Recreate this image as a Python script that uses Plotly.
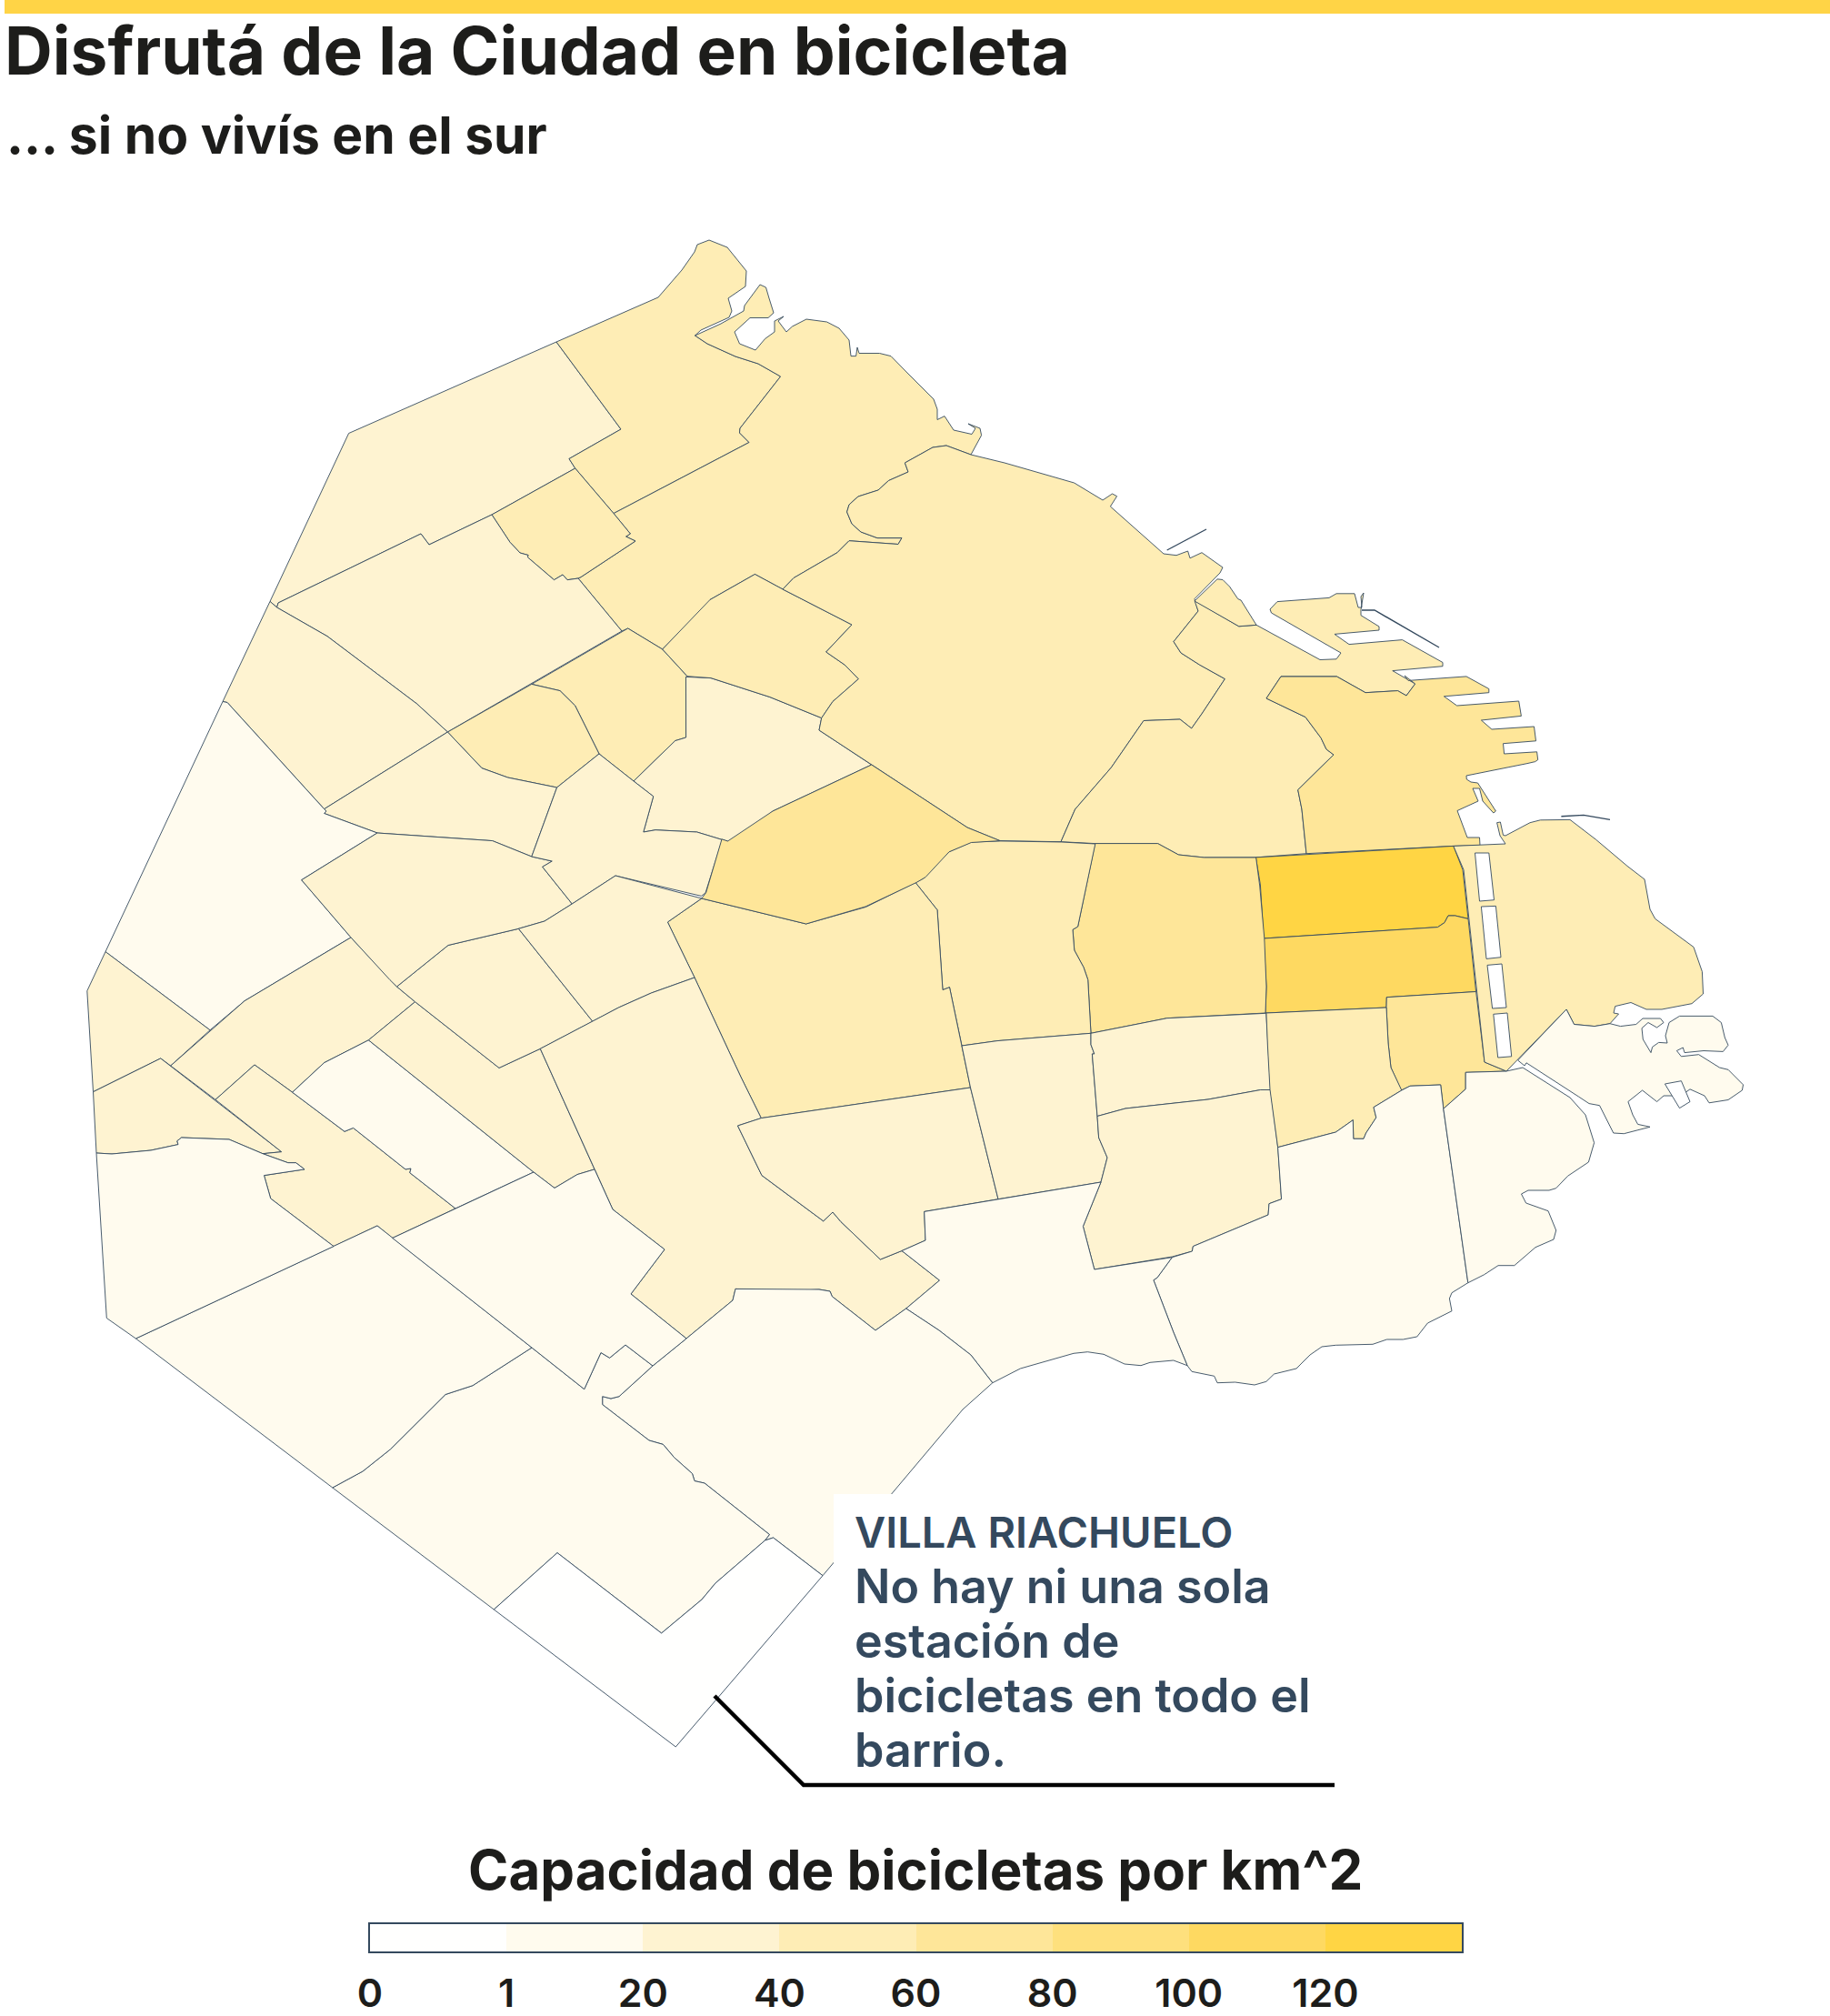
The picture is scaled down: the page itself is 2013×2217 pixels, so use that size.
import plotly.graph_objects as go

# Barrios (x, y in the picture's own units)
SAAVEDRA = [(612,376),(383.6,476.5),(297,661.4),(304.6,668),(306,663),(463,587),(472,599),(541,566),(632.7,515),(626,504.5),(683,472)]
NUNEZ = [(612,376),(724,327),(750,297),(764,277),(767,269),(780,264),(800,272),(821,298),(820,315),(801,328),(805,342),(802,349),(771,363),(764.5,369),(778,378),(809,392),(834,400),(858.6,414),(814,471),(813.5,476),(824,486.5),(675,564.6),(632.7,515),(626,504.5),(683,472)]
BELGRANO = [(764.5,369),(793,356),(818,342),(819,336),(836,313),(842.5,316),(846,328),(851,344),(845,349.5),(825,349.5),(808,365),(813.5,378),(831,385),(841.6,372.5),(852,365),(852,353),(862,348),(856,353),(865,365),(871.5,359),(887,351),(909.5,354),(923,361),(934,374),(936,391.6),(941.6,391.6),(943,382),(945,388.5),(967.5,388.5),(980,391.6),(1000,412),(1027,439),(1031,450),(1031,461.5),(1039,457.6),(1049,473),(1069,477.5),(1073,471),(1065,466),(1078,471),(1079.6,478.7),(1068,500),(1041,490),(1026,492),(995.4,509),(999,519),(977.5,528.5),(966,539),(944,546),(934,555),(931.6,563),(937,576),(947,585),(965,591.6),(992,591.6),(988,598.5),(934,594.7),(921,607.7),(873,635.6),(861,648),(830.4,631.5),(781,659.5),(780,663),(728.7,714),(690.7,691),(684,694),(636,636),(639,634.6),(699,595),(688.5,590),(693.4,587),(675,564.6),(824,486.5),(813.5,476),(814,471),(858.6,414),(834,400),(809,392),(778,378)]
COGHLAN = [(541,566),(632.7,515),(675,564.6),(693.4,587),(688.5,590),(699,595),(639,634.6),(636,636),(624,637.7),(619,632),(609.5,637.7),(580.4,612.8),(581,610.5),(572,608),(561,596.3)]
VILLA_URQUIZA = [(306,663),(463,587),(472,599),(541,566),(561,596.3),(572,608),(581,610.5),(580.4,612.8),(609.5,637.7),(619,632),(624,637.7),(636,636),(684,694),(492.4,805),(458.6,774),(360,699.7),(304.6,668)]
VILLA_ORTUZAR = [(690.7,691),(728.7,714),(756,743.7),(754.5,744.4),(754.5,807),(754.6,811),(742.7,814.6),(697,859),(659,829),(632.6,776),(616,759.6),(584.8,752.4)]
PARQUE_CHAS = [(492.4,805),(584.8,752.4),(616,759.6),(632.6,776),(659,829),(612.6,866),(558.5,855),(530,844.7)]
VILLA_PUEYRREDON = [(297,661.4),(304.6,668),(360,699.7),(458.6,774),(492.4,805),(356.6,889.7),(250,772.5),(245,771.5)]
AGRONOMIA = [(492.4,805),(530,844.7),(558.5,855),(612.6,866),(584.8,942),(541.7,924.6),(415,916),(356.6,894.5),(359,892),(356.6,889.7)]
VILLA_DEVOTO = [(245,771.5),(250,772.5),(356.6,889.7),(359,892),(356.6,894.5),(415,916),(331.7,967.7),(386,1030.9),(269,1100.7),(231,1132.8),(116,1046.6)]
VILLA_REAL = [(116,1046.6),(95.8,1089.7),(102.5,1200.7),(176.7,1163.9),(187.7,1172),(231,1132.8)]
LINIERS_NORTE = [(102.5,1200.7),(176.7,1163.9),(309.7,1266.7),(289,1268.7),(252,1253),(199.6,1251),(194.8,1254.8),(196,1258.6),(166,1265),(123,1269),(106,1268)]
MONTE_CASTRO = [(187.7,1172),(269,1100.7),(386,1030.9),(429,1077.7),(436.5,1085),(456.6,1101.7),(405.4,1143.8),(356.6,1168.7),(321.6,1201.2),(280,1171),(237,1209.3)]
VILLA_LURO = [(280,1171),(321.6,1201.2),(379,1244.3),(388.6,1240.4),(446,1285.9),(452,1285),(450.8,1289.7),(501,1329),(431.7,1361.5),(415,1348),(367,1370.6),(297.7,1318),(290.5,1292.6),(335,1285.9),(325.5,1278.7),(316.8,1278.7),(289,1268.7),(309.7,1266.7),(237,1209.3)]
VELEZ_SARSFIELD = [(321.6,1201.2),(356.6,1168.7),(405.4,1143.8),(587,1289),(501,1329),(450.8,1289.7),(452,1285),(446,1285.9),(388.6,1240.4),(379,1244.3)]
FLORESTA = [(405.4,1143.8),(456.6,1101.7),(549,1174.4),(594.3,1153.3),(654,1285.9),(635,1291.6),(610,1306.5),(587,1289)]
VILLA_SANTA_RITA = [(436.5,1085),(493,1039.5),(570.4,1021.3),(651.8,1123.2),(594.3,1153.3),(549,1174.4),(456.6,1101.7)]
VILLA_DEL_PARQUE = [(331.7,967.7),(415,916),(541.7,924.6),(584.8,942),(607.3,947),(596.7,953.3),(629.3,994),(599,1013),(570.4,1021.3),(493,1039.5),(436.5,1085),(429,1077.7),(386,1030.9)]
LA_PATERNAL = [(754.5,744.4),(782,745.6),(847,766.6),(903.7,789.6),(901,803),(958.7,841),(850,892),(830,908),(801.5,925.6),(766.6,915),(721,912.7),(707.8,915),(718.7,875.8),(697,859),(742.7,814.6),(754.6,811)]
VILLA_MITRE = [(612.6,866),(659,829),(697,859),(718.7,875.8),(707.8,915),(721,912.7),(766.6,915),(801.5,925.6),(794.3,924),(776,982),(771.4,985.4),(677,963),(629.3,994),(596.7,953.3),(607.3,947),(584.8,942)]
COLEGIALES = [(830.4,631.5),(861,648),(937,687),(908.7,717),(929,731),(944.4,746.6),(916,771.5),(903.7,789.6),(847,766.6),(782,745.6),(756,743.7),(728.7,714),(781,659.5)]
PALERMO = [(861,648),(873,635.6),(921,607.7),(934,594.7),(988,598.5),(992,591.6),(965,591.6),(947,585),(937,576),(931.6,563),(934,555),(944,546),(966,539),(977.5,528.5),(999,519),(995.4,509),(1026,492),(1041,490),(1068,500),(1074.5,501.7),(1105,509),(1181.6,531),(1213,550),(1223.5,543),(1228.6,545.7),(1221.4,557),(1273.5,603),(1280,609),(1294,610.7),(1306.6,606),(1309,613.8),(1322,607.7),(1345,624),(1342,630),(1314,658.6),(1318,672),(1291,705.6),(1299,718),(1319.4,731),(1347.4,746.6),(1322,785),(1310.7,801),(1298,791),(1258,792.5),(1222.4,844),(1182.6,890),(1167,925.7),(1103.6,924.6),(1100,924.6),(1064,910),(958.7,841),(901,803),(903.7,789.6),(916,771.5),(944.4,746.6),(929,731),(908.7,717),(937,687)]
RECOLETA = [(1258,792.5),(1298,791),(1310.7,801),(1322,785),(1347.4,746.6),(1319.4,731),(1299,718),(1291,705.6),(1318,672),(1314,660.5),(1362.8,688.8),(1382,687.3),(1452,725.5),(1470,724.8),(1475,718),(1398.5,674),(1397,670),(1405,661.6),(1462,657.4),(1470,652.8),(1490,652.8),(1494,668),(1498,668),(1497,656),(1500,652),(1497,670.5),(1497,676.7),(1517,689),(1517,693),(1468,697.4),(1484,708.6),(1542.5,703.6),(1587,728.5),(1587,732.7),(1531.8,737.6),(1556.7,752),(1547,765),(1537.5,759.6),(1502,761.7),(1470.5,743.9),(1409,743.9),(1393,768),(1436,788.6),(1453,811.4),(1459,824),(1467,830),(1427.7,868.6),(1432,890),(1437,938.7),(1381.4,942.9),(1324.5,943),(1296.4,940),(1273.5,927.6),(1204.6,927.6),(1167,925.7),(1182.6,890),(1222.4,844)]
RECOLETA_NORTE = [(1314,661),(1339,636.8),(1345,637.5),(1352.5,645),(1361.7,658.6),(1365,660),(1382,687.3),(1362.8,688.8)]
RETIRO = [(1393,768),(1409,744),(1470.5,744),(1502,761.7),(1537.5,759.6),(1547,765),(1556.7,752),(1545,743),(1549,748.4),(1613,743.9),(1637.8,757.5),(1637.8,761.7),(1588.4,765.8),(1602.6,776),(1670.7,771),(1673.4,787.4),(1629.4,792),(1640.9,802),(1687.5,799),(1689.5,814.8),(1653.5,817.7),(1654.6,829),(1690.6,826.8),(1691.7,835.5),(1688.7,837.6),(1680,839.6),(1613,853),(1613.3,857),(1618,860),(1625.5,861),(1645.4,892),(1642.8,894),(1631,881),(1627.5,867),(1620,867),(1626,881),(1603,891.5),(1614,921),(1627.5,921),(1628,929.6),(1598.8,930.4),(1437,938.7),(1432,890),(1427.7,868.6),(1467,830),(1459,824),(1453,811.4),(1436,788.6)]
SAN_NICOLAS = [(1381.4,942.9),(1598.8,930.4),(1609,956.5),(1615,1010.4),(1600.7,1007),(1593,1007),(1589,1014.6),(1581.5,1019.6),(1390,1032),(1386.4,973)]
MONSERRAT = [(1390,1032),(1581.5,1019.6),(1589,1014.6),(1593,1007),(1600.7,1007),(1615,1010.4),(1623.6,1090.5),(1525.3,1096.7),(1525,1108),(1392,1114),(1393,1085)]
SAN_TELMO = [(1525.3,1096.7),(1623.6,1090.5),(1633,1168),(1657,1178),(1612.2,1179.3),(1612.2,1197.7),(1587.8,1219.3),(1584.7,1193),(1551,1194.3),(1541.4,1199),(1530,1174),(1527,1147),(1525,1108)]
BALVANERA = [(1204.6,927.6),(1273.5,927.6),(1296.4,940),(1324.5,943),(1381.6,943),(1385.7,974),(1390.8,1031.7),(1393,1085),(1392,1114),(1283.7,1119.7),(1200,1136.3),(1196.7,1077.4),(1192,1063.8),(1181.8,1045),(1180,1022.3),(1185.6,1019)]
ALMAGRO = [(1204.8,928),(1185.6,1019),(1180,1022.3),(1181.8,1045),(1192,1063.8),(1196.7,1077.4),(1200,1136.3),(1097,1144.6),(1058,1150),(1044.5,1085.7),(1037,1088.6),(1031,1000.7),(1007,970.5),(1015.8,966),(1035,944.8),(1044.5,936.5),(1068.4,926),(1099.5,924.9),(1167.5,926)]
CABALLITO = [(771.8,988),(886.6,1016),(952.6,997.4),(1007,970.5),(1031,1000.7),(1037,1088.6),(1044.5,1085.7),(1058,1150),(1067.5,1196),(837.3,1229.6),(814.8,1184),(764,1075),(734.4,1014)]
VILLA_CRESPO = [(958.7,841),(1064,910),(1100,924.6),(1068.4,926.5),(1044,936.8),(1018,964.7),(1008,970.5),(952,997),(886.7,1016),(771.8,988),(776.6,981.7),(794,922.8),(800.5,925),(850,892)]
FLORES_NORTE = [(629.3,994),(677,963),(771.8,988),(734.4,1014),(764,1075),(716.4,1092),(680.5,1108),(651.8,1123.2),(570.4,1021.3),(599,1013)]
FLORES = [(594.3,1153.3),(651.8,1123.2),(680.5,1108),(716.4,1092),(764,1075),(814.8,1184),(837.3,1229.6),(811.5,1238),(838,1292.6),(867.5,1314.6),(905.7,1342.8),(916,1333),(925,1343.6),(968.4,1385),(992,1375.5),(1033.5,1408),(996.7,1439),(963,1463),(915.3,1425.7),(913,1420),(901,1418),(862.7,1420),(809,1417.4),(806,1430),(755,1472),(694,1423),(731,1374),(674,1330),(654,1285.9)]
PARQUE_CHACABUCO = [(837.3,1229.6),(1067.5,1196),(1098,1318.7),(1016.7,1332.4),(1018,1364),(992,1375.5),(968.4,1385),(925,1343.6),(916,1333),(905.7,1342.8),(838,1292.6),(811.5,1238)]
BOEDO = [(1058,1150),(1097,1144.6),(1200,1136.3),(1200,1148.8),(1203.8,1159),(1201.4,1159),(1207,1227.5),(1208.6,1251),(1218,1273),(1211,1300),(1098,1318.7),(1067.5,1196)]
SAN_CRISTOBAL = [(1200,1136.3),(1283.7,1119.7),(1392.8,1114.3),(1397.6,1198.5),(1386.6,1198.5),(1329,1209),(1238,1219),(1207,1227.5),(1201.4,1159),(1203.8,1159),(1200,1148.8)]
PARQUE_PATRICIOS = [(1207,1227.5),(1238,1219),(1329,1209),(1386.6,1198.5),(1397.6,1198.5),(1405.7,1262),(1409.6,1318.7),(1396,1323.7),(1395,1336),(1312.4,1370.6),(1311.4,1376),(1289.5,1382),(1203.8,1396),(1191.4,1348.6),(1211,1300),(1218,1273),(1208.6,1251)]
CONSTITUCION = [(1392.9,1114),(1525,1108),(1527,1147),(1530,1174),(1541.8,1199),(1511,1217.7),(1513.8,1229),(1502.6,1246),(1500,1252.3),(1488.8,1252.3),(1488.3,1231.7),(1469.4,1245),(1405.6,1261.7),(1397,1198.3),(1394.4,1150)]
BARRACAS = [(1551,1194.3),(1584.7,1193),(1587.8,1219.3),(1614.8,1410.7),(1597,1421.7),(1594.4,1428),(1597,1441.7),(1570.4,1455),(1558.7,1470),(1543.4,1473),(1525.5,1473),(1510,1478.3),(1469.4,1479.3),(1454,1481),(1441,1490),(1426,1505),(1401.5,1511),(1392.9,1519.3),(1380,1523),(1358.7,1520),(1339,1520.7),(1335.7,1513.3),(1311,1508.3),(1306,1501.7),(1290.8,1465),(1268.9,1407.7),(1273,1405),(1289.3,1382.7),(1311.4,1376),(1312.4,1370.6),(1395,1336),(1396,1323.7),(1409.6,1318.7),(1405.6,1261.7),(1469.4,1245),(1488.3,1231.7),(1488.8,1252.3),(1500,1252.3),(1502.6,1246),(1513.8,1229),(1511,1217.7),(1541.8,1199)]
LA_BOCA = [(1587.8,1219.3),(1612.2,1197.7),(1612.2,1179.3),(1657,1178),(1675,1174),(1727,1207),(1744,1226),(1753.6,1256.7),(1747.4,1278),(1724.5,1293.3),(1711.7,1306.7),(1704,1309),(1681,1309),(1673.5,1313),(1678.6,1323),(1703,1331.7),(1711.7,1353),(1709,1363),(1689,1371.7),(1665.8,1391.7),(1648,1391.7),(1632.7,1401.7),(1614.8,1410.7)]
PUERTO_MADERO = [(1598.8,930.4),(1656,928),(1650,919),(1646.6,904.7),(1650.4,904),(1653.5,918.4),(1656,919),(1683,904.7),(1694.4,901.8),(1727,901.4),(1755.7,923.4),(1790,952.4),(1809,967),(1815,1000),(1820.7,1010.4),(1863,1041.5),(1872.4,1068.5),(1873.5,1093),(1861,1103.7),(1828,1110),(1811,1110),(1794,1102.5),(1776.7,1106.6),(1775,1114),(1780.5,1115),(1771,1125.7),(1754,1128.6),(1731.5,1126.5),(1723,1110),(1657,1178),(1633,1168),(1610,956.5)]
RESERVA = [(1669.6,1166),(1723,1110),(1731.5,1126.5),(1754,1128.6),(1771,1125.7),(1782.5,1128.6),(1799.7,1126.5),(1807,1120),(1826.5,1120),(1830,1124.5),(1822.6,1130),(1813,1124.5),(1806,1130.7),(1807.3,1143),(1816,1157.6),(1817.6,1151.4),(1824.6,1146.4),(1834,1147),(1832,1139),(1836,1124.5),(1847.5,1117.4),(1884,1117.4),(1893.4,1124.5),(1897.3,1141),(1901,1149.3),(1895.4,1156.4),(1874,1155.5),(1853,1157.6),(1851.3,1152),(1844.4,1155.5),(1849.4,1161.8),(1868.6,1159.7),(1891.5,1174),(1901,1176.3),(1917.5,1192.9),(1916.4,1199),(1901,1209.5),(1880,1212.8),(1875,1205),(1859,1197.8),(1849,1205),(1830,1205),(1822.6,1211.5),(1806.6,1199),(1790.9,1211.5),(1796,1226),(1801.6,1236.4),(1815,1239.3),(1786.3,1246.7),(1774.8,1246),(1759.5,1215.7),(1748,1213.6),(1736.5,1206),(1679,1168.8),(1677,1172)]
NUEVA_POMPEYA = [(1016.7,1332.4),(1098,1318.7),(1211,1300),(1191.4,1348.6),(1203.8,1396),(1289.3,1382.7),(1273,1405),(1268.9,1407.7),(1290.8,1465),(1306,1501.7),(1290.8,1496),(1265,1498.3),(1255,1501.7),(1237,1500),(1214,1489.3),(1196.4,1486.7),(1181,1488.3),(1122.4,1505),(1091.8,1520.7),(1067.9,1490),(1033,1463),(996.7,1439),(1033.5,1408),(992,1375.5),(1018,1364)]
VILLA_SOLDATI = [(809,1417.4),(901,1418),(913,1420),(915.3,1425.7),(963,1463),(996.7,1439),(1033,1463),(1067.9,1490),(1091.8,1520.7),(1059,1550),(1000,1620),(917,1719),(905,1732.7),(850.6,1691),(841.5,1694),(846.4,1687.5),(775,1631),(764,1628.6),(761.5,1620.5),(741.5,1602.7),(729.4,1588.4),(714,1584),(662.7,1544.6),(662.7,1535.7),(672,1538),(681,1535.7),(718,1502),(755,1472),(806,1430)]
VILLA_RIACHUELO = [(905,1732.7),(850.6,1691),(841.5,1694),(787,1741),(772,1759),(727.6,1796),(613,1707.6),(543.3,1770),(743.3,1921)]
VILLA_LUGANO = [(585,1482),(642.7,1527.7),(661,1487.5),(670.6,1493.3),(688,1479),(718,1502),(681,1535.7),(672,1538),(662.7,1535.7),(662.7,1544.6),(714,1584),(729.4,1588.4),(741.5,1602.7),(761.5,1620.5),(764,1628.6),(775,1631),(846.4,1687.5),(841.5,1694),(787,1741),(772,1759),(727.6,1796),(613,1707.6),(543.3,1770),(365.8,1636),(399,1618),(429.4,1593.8),(490,1533.5),(520,1523.7)]
LINIERS = [(415,1348),(585,1482),(520,1523.7),(490,1533.5),(429.4,1593.8),(399,1618),(365.8,1636),(149.4,1472)]
VERSALLES = [(106,1268),(123,1269),(166,1265),(196,1258.6),(194.8,1254.8),(199.6,1251),(252,1253),(289,1268.7),(316.8,1278.7),(325.5,1278.7),(335,1285.9),(290.5,1292.6),(297.7,1318),(367,1370.6),(149.4,1472),(117.3,1449.5)]
MATADEROS = [(431.7,1361.5),(501,1329),(587,1289),(610,1306.5),(635,1291.6),(654,1285.9),(674,1330),(731,1374),(694,1423),(755,1472),(718,1502),(688,1479),(670.6,1493.3),(661,1487.5),(642.7,1527.7),(585,1482)]

# Capacity per km^2, one value per barrio (only the class is readable from the map)
BARRIOS = [SAAVEDRA, NUNEZ, BELGRANO, COGHLAN, VILLA_URQUIZA, VILLA_ORTUZAR, PARQUE_CHAS, VILLA_PUEYRREDON,
           AGRONOMIA, VILLA_DEVOTO, VILLA_REAL, LINIERS_NORTE, MONTE_CASTRO, VILLA_LURO, VELEZ_SARSFIELD,
           FLORESTA, VILLA_SANTA_RITA, VILLA_DEL_PARQUE, LA_PATERNAL, VILLA_MITRE, COLEGIALES, PALERMO,
           RECOLETA, RECOLETA_NORTE, RETIRO, SAN_NICOLAS, MONSERRAT, SAN_TELMO, BALVANERA, ALMAGRO, CABALLITO,
           VILLA_CRESPO, FLORES_NORTE, FLORES, PARQUE_CHACABUCO, BOEDO, SAN_CRISTOBAL, PARQUE_PATRICIOS,
           CONSTITUCION, BARRACAS, LA_BOCA, PUERTO_MADERO, RESERVA, NUEVA_POMPEYA, VILLA_SOLDATI,
           VILLA_LUGANO, LINIERS, VERSALLES, MATADEROS, VILLA_RIACHUELO]
CAPACIDAD = [30, 50, 50, 50, 30, 50, 50, 30,
             30, 10, 30, 30, 30, 30, 10,
             30, 30, 30, 30, 30, 50, 50,
             50, 50, 70, 130, 110, 70, 70, 50, 50,
             70, 30, 30, 30, 30, 30, 30,
             50, 10, 10, 50, 10, 10, 10,
             10, 10, 10, 10, 0]

# White gaps in the docks and the pier lines
DIQUES = [[(1622.5,938),(1637.8,938),(1643.5,989.7),(1627.5,991)],
          [(1629.4,997),(1645.4,996.4),(1651,1052.7),(1635,1054.4)],
          [(1636,1061.4),(1652,1060),(1657,1108),(1641.6,1109)],
          [(1642.8,1115.3),(1658,1114),(1662.7,1161.8),(1647.7,1163)],
          [(1831.4,1192),(1849.4,1188.7),(1859,1211.5),(1847.5,1218.6)]]
MUELLES = [[(1283.7,605),(1327,582)],
           [(1498,671),(1512,671),(1583,712)],
           [(1717.4,897.7),(1742,896.4),(1771,901.4)]]
LLAMADA = [(786,1865),(884,1963),(1468,1963)]

CORTES = [0, 1, 20, 40, 60, 80, 100, 120]
COLORES = ['#fffffe', '#fffbee', '#fef3d1', '#feedb5', '#fee699', '#fee07d', '#fed961', '#ffd544']
NOTA = ['VILLA RIACHUELO', 'No hay ni una sola', 'estación de', 'bicicletas en todo el', 'barrio.']
NOTA_SIZE = [47, 52, 52, 52, 52]

FONT = 'Inter'
INK = '#1d1d1b'
SLATE = '#34495e'


def color_for(value):
    idx = 0
    for i, corte in enumerate(CORTES):
        if value >= corte:
            idx = i
    return COLORES[idx]


fig = go.Figure()

for barrio, valor in zip(BARRIOS, CAPACIDAD):
    xs = [p[0] for p in barrio] + [barrio[0][0]]
    ys = [p[1] for p in barrio] + [barrio[0][1]]
    fig.add_trace(go.Scatter(x=xs, y=ys, mode='lines', fill='toself', fillcolor=color_for(valor),
                             line=dict(color=SLATE, width=0.9), hoverinfo='skip', showlegend=False))

for dique in DIQUES:
    xs = [p[0] for p in dique] + [dique[0][0]]
    ys = [p[1] for p in dique] + [dique[0][1]]
    fig.add_trace(go.Scatter(x=xs, y=ys, mode='lines', fill='toself', fillcolor='white',
                             line=dict(color=SLATE, width=0.9), hoverinfo='skip', showlegend=False))

for muelle in MUELLES:
    fig.add_trace(go.Scatter(x=[p[0] for p in muelle], y=[p[1] for p in muelle], mode='lines',
                             line=dict(color=SLATE, width=1.4), hoverinfo='skip', showlegend=False))

fig.add_trace(go.Scatter(x=[p[0] for p in LLAMADA], y=[p[1] for p in LLAMADA], mode='lines',
                         line=dict(color='black', width=4.5), hoverinfo='skip', showlegend=False))

# Color key, on its own axes
fig.add_trace(go.Heatmap(z=[list(range(len(COLORES)))], x=list(range(len(COLORES) + 1)), y=[0, 1], xaxis='x2', yaxis='y2',
                         colorscale=[[i / (len(COLORES) - 1), c] for i, c in enumerate(COLORES)],
                         showscale=False, hoverinfo='skip'))

fig.add_shape(type='rect', x0=5, x1=2013, y0=0, y1=15, fillcolor='#ffd446', line_width=0, layer='above')
fig.add_shape(type='rect', x0=917, x1=1480, y0=1643, y1=1955, fillcolor='white', line_width=0, layer='above')

fig.add_annotation(x=3, y=55, text='Disfrutá de la Ciudad en bicicleta', showarrow=False, xanchor='left',
                   font=dict(family=FONT, size=73, color=INK, weight=700))
fig.add_annotation(x=5, y=148, text='... si no vivís en el sur', showarrow=False, xanchor='left',
                   font=dict(family=FONT, size=57, color=INK, weight=700))
fig.add_annotation(x=1007, y=2056, text='Capacidad de bicicletas por km^2', showarrow=False,
                   font=dict(family=FONT, size=60, color=INK, weight=700))
for i, linea in enumerate(NOTA):
    fig.add_annotation(x=938, y=1684 + i * 60, text=linea, showarrow=False, xanchor='left',
                       font=dict(family=FONT, size=NOTA_SIZE[i], color=SLATE, weight=600))

fig.update_layout(
    template='none',
    width=2013, height=2217, margin=dict(l=0, r=0, t=0, b=0),
    paper_bgcolor='white', plot_bgcolor='rgba(0,0,0,0)',
    xaxis=dict(range=[0, 2013], domain=[0, 1], visible=False, fixedrange=True, automargin=False),
    yaxis=dict(range=[2217, 0], domain=[0, 1], visible=False, fixedrange=True, automargin=False),
    xaxis2=dict(range=[0, 8], domain=[407 / 2013, 1608 / 2013], anchor='y2', showgrid=False, zeroline=False,
                automargin=False, tickvals=list(range(len(CORTES))), ticktext=[str(c) for c in CORTES], ticks='outside',
                ticklen=8, tickcolor='rgba(0,0,0,0)', tickfont=dict(family=FONT, size=43, color=INK, weight=600),
                showline=True, linecolor=SLATE, linewidth=1.5, mirror=True),
    yaxis2=dict(range=[0, 1], domain=[1 - 2146 / 2217, 1 - 2116 / 2217], anchor='x2', showgrid=False,
                automargin=False, zeroline=False, showticklabels=False, ticks='', showline=True, linecolor=SLATE,
                linewidth=1.5, mirror=True),
)

# the page body's default margin would push the figure off the window
fig.write_html("out.html", config=dict(displayModeBar=False), post_script="document.body.style.margin = '0';")
